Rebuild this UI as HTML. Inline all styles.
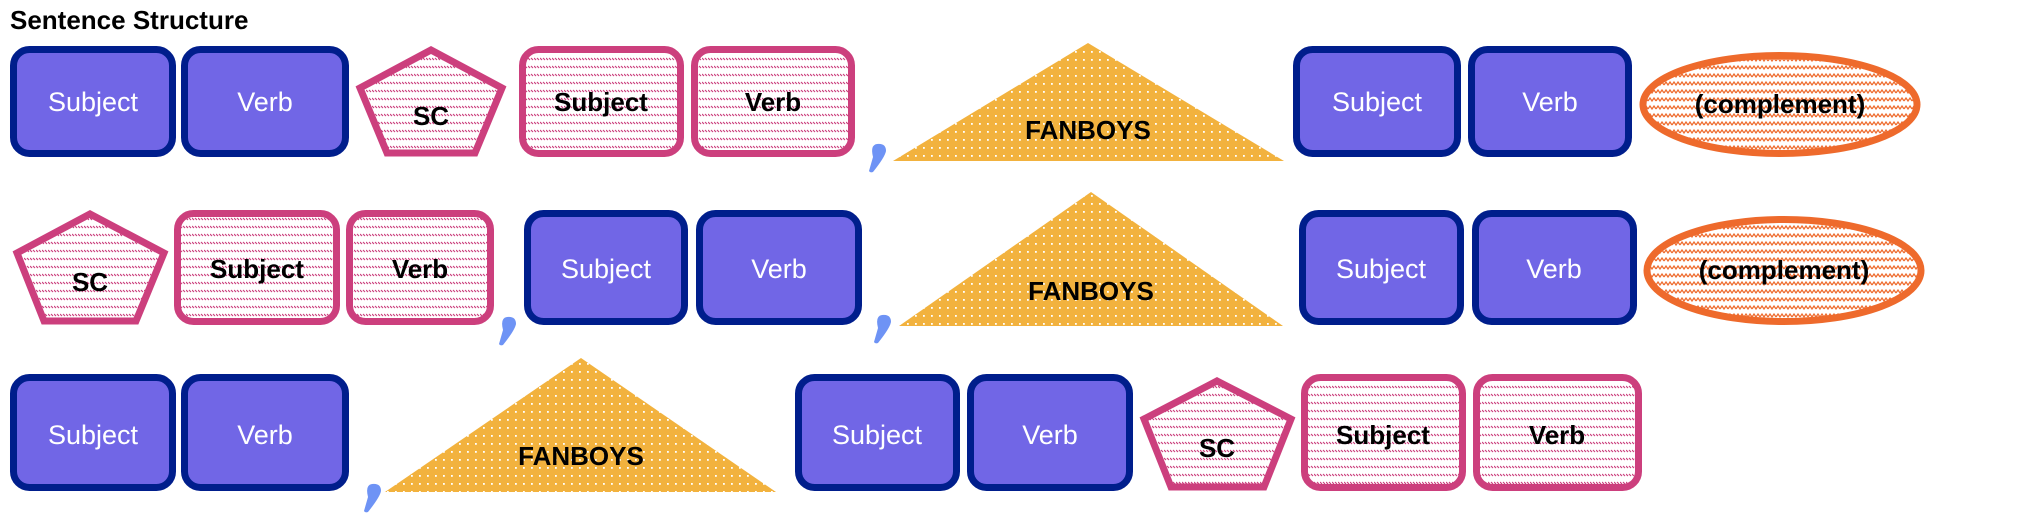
<!DOCTYPE html>
<html><head><meta charset="utf-8"><style>
html,body{margin:0;padding:0;background:#fff;width:2024px;height:522px;overflow:hidden}
svg{display:block}
text{font-family:"Liberation Sans",sans-serif;text-anchor:middle}
.w{fill:#fff;font-size:27px}
.b{fill:#000;font-size:26px;font-weight:bold}
.br{fill:#7166E6;stroke:#001E8C;stroke-width:7}
.pr{fill:url(#pk);stroke:#CC3F7D;stroke-width:7}
.tri{fill:url(#dt)}
.el{fill:url(#zz);stroke:#EE6A2C;stroke-width:7}
.cm{fill:#6E93F5}
</style></head><body>
<svg width="2024" height="522" viewBox="0 0 2024 522" xmlns="http://www.w3.org/2000/svg">
<defs>
<pattern id="pk" width="6" height="8" patternUnits="userSpaceOnUse">
<rect width="6" height="8" fill="#fff"/>
<path d="M0,2 L2,4 M3,2 L5,4" stroke="#CC3F7D" stroke-width="1.2"/>
</pattern>
<pattern id="dt" width="8" height="8" patternUnits="userSpaceOnUse">
<rect width="8" height="8" fill="#F2B23E"/>
<rect x="3" y="3" width="1.8" height="1.8" fill="#fff"/>
</pattern>
<pattern id="zz" width="8" height="8" patternUnits="userSpaceOnUse">
<rect width="8" height="8" fill="#fff"/>
<path d="M0,5 L2,2 L4,5 L6,2 L8,5" stroke="#EE6A2C" stroke-width="1.2" fill="none"/>
</pattern>
</defs>
<text x="10" y="29" style="text-anchor:start;font-size:26px;font-weight:bold">Sentence Structure</text>

<!-- Row 1 -->
<rect class="br" x="13.5" y="49.5" width="159" height="104" rx="16"/><text class="w" x="93" y="111">Subject</text>
<rect class="br" x="184.5" y="49.5" width="161" height="104" rx="16"/><text class="w" x="265" y="111">Verb</text>
<polygon class="pr" points="431,50 502,88 475,153 387,153 360,88"/><text class="b" x="431" y="125">SC</text>
<rect class="pr" x="522.5" y="49.5" width="158" height="104" rx="16"/><text class="b" x="601" y="111">Subject</text>
<rect class="pr" x="694.5" y="49.5" width="157" height="104" rx="16"/><text class="b" x="773" y="111">Verb</text>
<path class="cm" d="M877,144 q9,-1 9,7 q-1,6 -13,21 q-3,1 -4,-1 l4,-14 q-3,-12 4,-13 z"/>
<polygon class="tri" points="1088,43 1284,161 893,161"/><text class="b" x="1088" y="139">FANBOYS</text>
<rect class="br" x="1296.5" y="49.5" width="161" height="104" rx="16"/><text class="w" x="1377" y="111">Subject</text>
<rect class="br" x="1471.5" y="49.5" width="157" height="104" rx="16"/><text class="w" x="1550" y="111">Verb</text>
<ellipse class="el" cx="1780" cy="104.5" rx="137" ry="49"/><text class="b" x="1780" y="113">(complement)</text>

<!-- Row 2 -->
<polygon class="pr" points="90,214 164,253 136,321 44,321 17,253"/><text class="b" x="90" y="291">SC</text>
<rect class="pr" x="177.5" y="213.5" width="159" height="108" rx="16"/><text class="b" x="257" y="278">Subject</text>
<rect class="pr" x="349.5" y="213.5" width="141" height="108" rx="16"/><text class="b" x="420" y="278">Verb</text>
<path class="cm" d="M507,317 q9,-1 9,7 q-1,6 -13,21 q-3,1 -4,-1 l4,-14 q-3,-12 4,-13 z"/>
<rect class="br" x="527.5" y="213.5" width="157" height="108" rx="16"/><text class="w" x="606" y="278">Subject</text>
<rect class="br" x="699.5" y="213.5" width="159" height="108" rx="16"/><text class="w" x="779" y="278">Verb</text>
<path class="cm" d="M882,315 q9,-1 9,7 q-1,6 -13,21 q-3,1 -4,-1 l4,-14 q-3,-12 4,-13 z"/>
<polygon class="tri" points="1091,192 1283,326 899,326"/><text class="b" x="1091" y="300">FANBOYS</text>
<rect class="br" x="1302.5" y="213.5" width="158" height="108" rx="16"/><text class="w" x="1381" y="278">Subject</text>
<rect class="br" x="1475.5" y="213.5" width="158" height="108" rx="16"/><text class="w" x="1554" y="278">Verb</text>
<ellipse class="el" cx="1784" cy="270.5" rx="137" ry="51"/><text class="b" x="1784" y="279">(complement)</text>

<!-- Row 3 -->
<rect class="br" x="13.5" y="377.5" width="159" height="110" rx="16"/><text class="w" x="93" y="444">Subject</text>
<rect class="br" x="184.5" y="377.5" width="161" height="110" rx="16"/><text class="w" x="265" y="444">Verb</text>
<path class="cm" d="M372,484 q9,-1 9,7 q-1,6 -13,21 q-3,1 -4,-1 l4,-14 q-3,-12 4,-13 z"/>
<polygon class="tri" points="581,358 776,492 385,492"/><text class="b" x="581" y="465">FANBOYS</text>
<rect class="br" x="798.5" y="377.5" width="158" height="110" rx="16"/><text class="w" x="877" y="444">Subject</text>
<rect class="br" x="970.5" y="377.5" width="159" height="110" rx="16"/><text class="w" x="1050" y="444">Verb</text>
<polygon class="pr" points="1217,381 1291,419 1264,487 1171,487 1144,419"/><text class="b" x="1217" y="457">SC</text>
<rect class="pr" x="1304.5" y="377.5" width="158" height="110" rx="16"/><text class="b" x="1383" y="444">Subject</text>
<rect class="pr" x="1476.5" y="377.5" width="162" height="110" rx="16"/><text class="b" x="1557" y="444">Verb</text>
</svg>
</body></html>
